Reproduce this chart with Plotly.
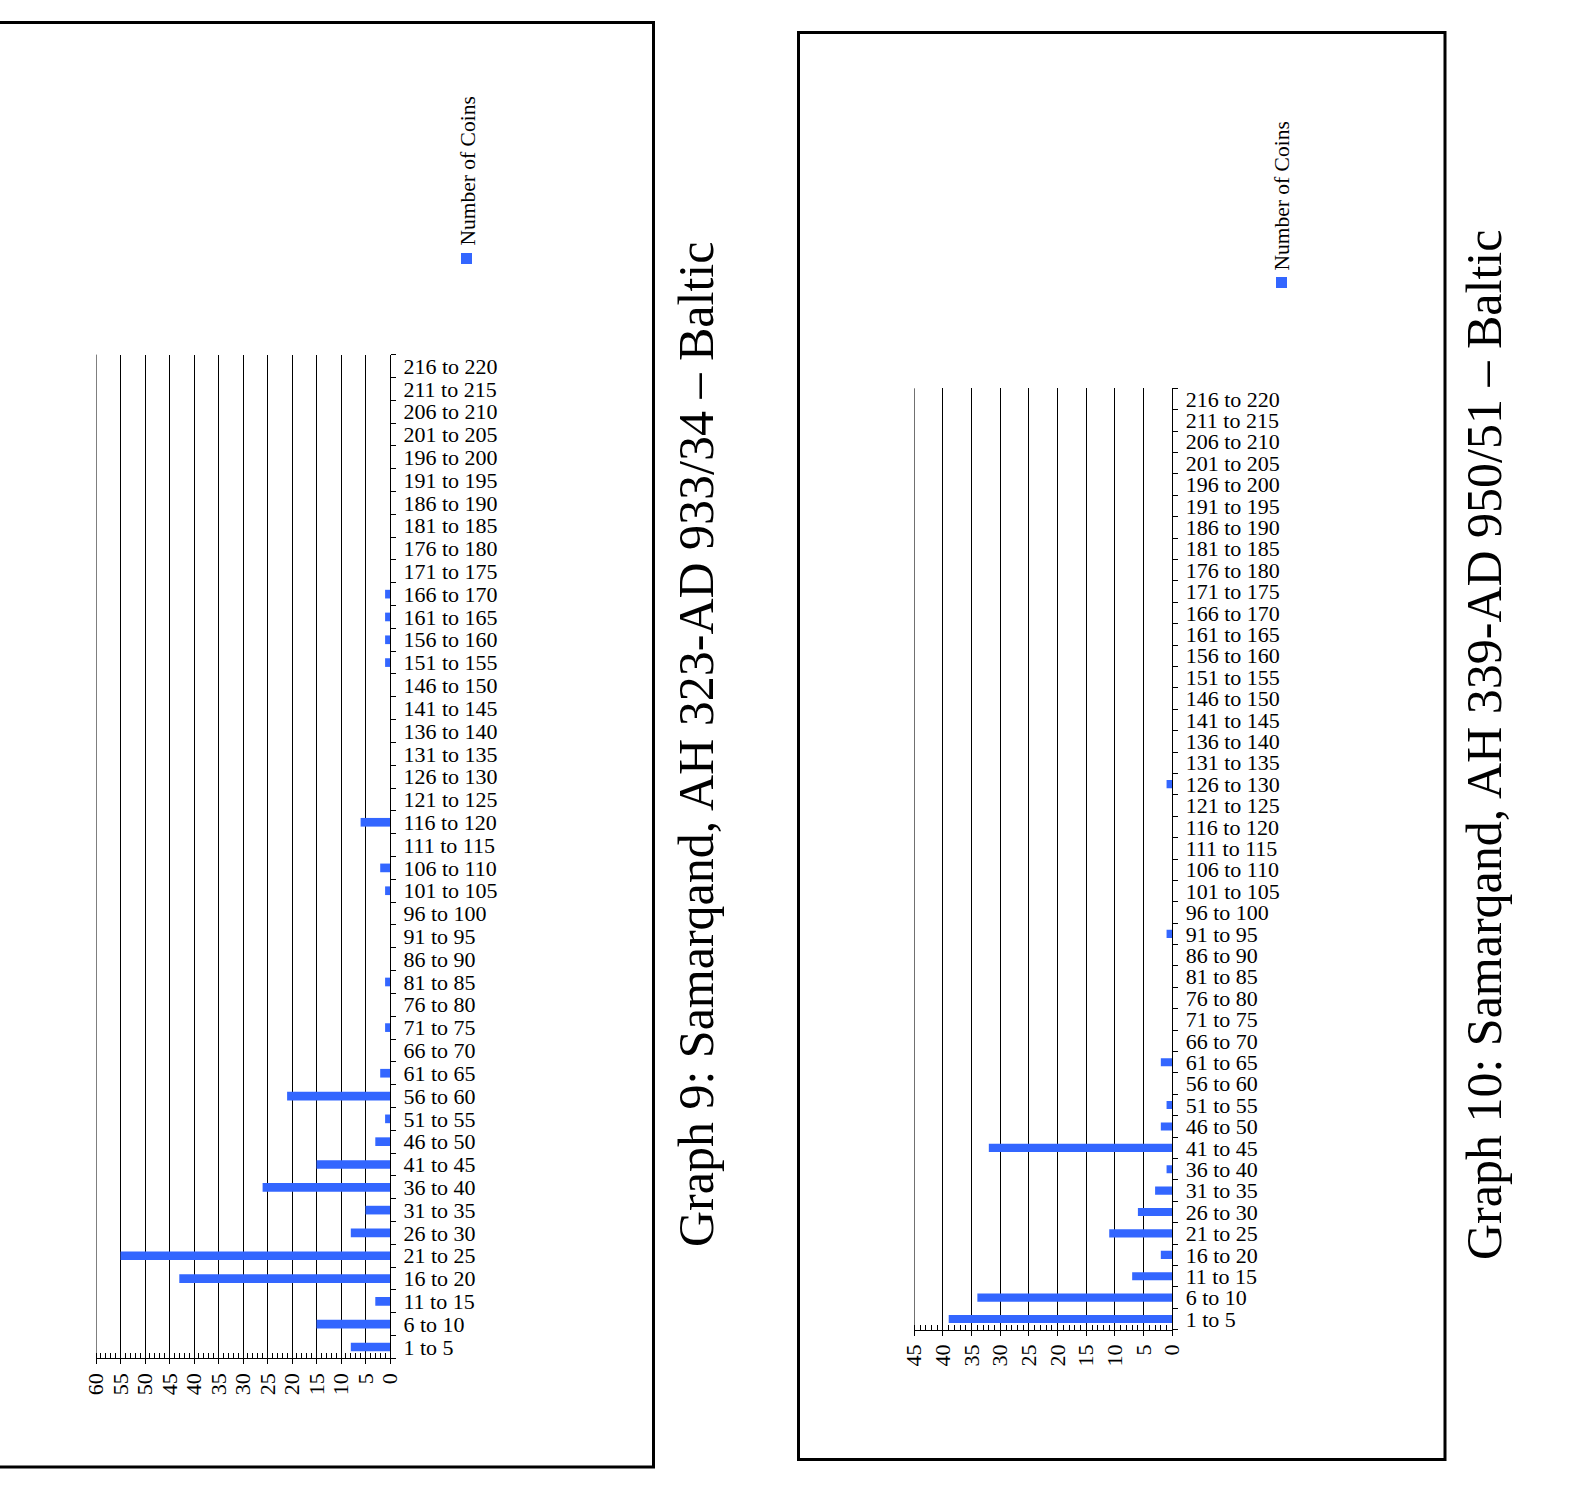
import plotly.graph_objects as go

W, H = 1572, 1491

categories = [
    "1 to 5", "6 to 10", "11 to 15", "16 to 20", "21 to 25", "26 to 30",
    "31 to 35", "36 to 40", "41 to 45", "46 to 50", "51 to 55", "56 to 60",
    "61 to 65", "66 to 70", "71 to 75", "76 to 80", "81 to 85", "86 to 90",
    "91 to 95", "96 to 100", "101 to 105", "106 to 110", "111 to 115",
    "116 to 120", "121 to 125", "126 to 130", "131 to 135", "136 to 140",
    "141 to 145", "146 to 150", "151 to 155", "156 to 160", "161 to 165",
    "166 to 170", "171 to 175", "176 to 180", "181 to 185", "186 to 190",
    "191 to 195", "196 to 200", "201 to 205", "206 to 210", "211 to 215",
    "216 to 220",
]

coins_graph9 = [
    8, 15, 3, 43, 55, 8, 5, 26, 15, 3, 1, 21, 2, 0, 1, 0, 1, 0, 0, 0,
    1, 2, 0, 6, 0, 0, 0, 0, 0, 0, 1, 1, 1, 1, 0, 0, 0, 0, 0, 0, 0, 0, 0, 0,
]
coins_graph10 = [
    39, 34, 7, 2, 11, 6, 3, 1, 32, 2, 1, 0, 2, 0, 0, 0, 0, 0, 1, 0,
    0, 0, 0, 0, 0, 1, 0, 0, 0, 0, 0, 0, 0, 0, 0, 0, 0, 0, 0, 0, 0, 0, 0, 0,
]

title9 = "Graph 9: Samarqand, AH 323-AD 933/34 – Baltic"
title10 = "Graph 10: Samarqand, AH 339-AD 950/51 – Baltic"
legend_label = "Number of Coins"
max9, max10 = 60, 45

BLUE = "#3366FF"
FONT = "Liberation Serif"


def px(v):
    return v / W


def py(v):
    return 1 - v / H


fig = go.Figure()
fig.add_trace(go.Bar(x=coins_graph9, y=categories, orientation="h",
                     marker=dict(color=BLUE, line=dict(width=0)),
                     name=legend_label, xaxis="x", yaxis="y", showlegend=False))
fig.add_trace(go.Bar(x=coins_graph10, y=categories, orientation="h",
                     marker=dict(color=BLUE, line=dict(width=0)),
                     name=legend_label, xaxis="x2", yaxis="y2", showlegend=False))


def xaxis_cfg(domain, rmax, anchor):
    return dict(
        domain=domain, range=[rmax, 0], anchor=anchor, dtick=5, tick0=0,
        tickmode="linear", automargin=False,
        tickangle=-90, tickfont=dict(family=FONT, size=22, color="black"),
        showgrid=True, gridcolor="black", gridwidth=1, zeroline=False,
        showline=True, linecolor="black", linewidth=1,
        ticks="outside", ticklen=5, tickcolor="black", tickwidth=1,
        minor=dict(dtick=1, tick0=0, ticks="inside", ticklen=5,
                   tickcolor="black", tickwidth=1, showgrid=False),
        fixedrange=True,
    )


def yaxis_cfg(domain, anchor):
    return dict(
        domain=domain, anchor=anchor, type="category", side="right",
        categoryorder="array", categoryarray=categories,
        tickmode="array", tickvals=categories, ticktext=categories,
        automargin=False,
        range=[-0.5, len(categories) - 0.5],
        tickfont=dict(family=FONT, size=22, color="black"),
        showgrid=False, zeroline=False, showline=True, linecolor="black",
        linewidth=1, ticks="outside", ticklen=5, tickcolor="black",
        tickson="boundaries", ticklabelstandoff=8, fixedrange=True,
    )


shapes = [
    dict(type="rect", xref="paper", yref="paper",
         x0=px(-10), x1=px(653.5), y0=py(1467), y1=py(22.5),
         line=dict(color="black", width=3), fillcolor="rgba(0,0,0,0)"),
    dict(type="rect", xref="paper", yref="paper",
         x0=px(798.5), x1=px(1445), y0=py(1459.5), y1=py(32.5),
         line=dict(color="black", width=3), fillcolor="rgba(0,0,0,0)"),
    dict(type="rect", xref="paper", yref="paper",
         x0=px(461), x1=px(472), y0=py(264), y1=py(253),
         line=dict(width=0), fillcolor=BLUE),
    dict(type="rect", xref="paper", yref="paper",
         x0=px(1276), x1=px(1287), y0=py(288), y1=py(277),
         line=dict(width=0), fillcolor=BLUE),
    # outermost gridline at the far end of each value axis
    dict(type="line", xref="x", yref="y domain", x0=max9, x1=max9, y0=0, y1=1,
         line=dict(color="black", width=1)),
    dict(type="line", xref="x2", yref="y2 domain", x0=max10, x1=max10, y0=0, y1=1,
         line=dict(color="black", width=1)),
]

annotations = [
    dict(text=title9, xref="paper", yref="paper", x=px(696), y=py(745),
         textangle=-90, showarrow=False, xanchor="center", yanchor="middle",
         font=dict(family=FONT, size=50, color="black")),
    dict(text=title10, xref="paper", yref="paper", x=px(1484), y=py(745),
         textangle=-90, showarrow=False, xanchor="center", yanchor="middle",
         font=dict(family=FONT, size=50, color="black")),
    dict(text=legend_label, xref="paper", yref="paper", x=px(467), y=py(248),
         textangle=-90, showarrow=False, xanchor="center", yanchor="bottom",
         font=dict(family=FONT, size=21.5, color="black")),
    dict(text=legend_label, xref="paper", yref="paper", x=px(1282), y=py(273),
         textangle=-90, showarrow=False, xanchor="center", yanchor="bottom",
         font=dict(family=FONT, size=21.5, color="black")),
]

fig.update_layout(
    width=W, height=H, margin=dict(l=0, r=0, t=0, b=0),
    paper_bgcolor="white", plot_bgcolor="white",
    bargap=0.62, showlegend=False,
    xaxis=xaxis_cfg([px(96), px(390)], max9, "y"),
    yaxis=yaxis_cfg([py(1358.4), py(354.6)], "x"),
    xaxis2=xaxis_cfg([px(914.3), px(1172.3)], max10, "y2"),
    yaxis2=yaxis_cfg([py(1329.7), py(388.3)], "x2"),
    shapes=shapes, annotations=annotations,
    font=dict(family=FONT, color="black"),
)

fig.write_html("out.html")
